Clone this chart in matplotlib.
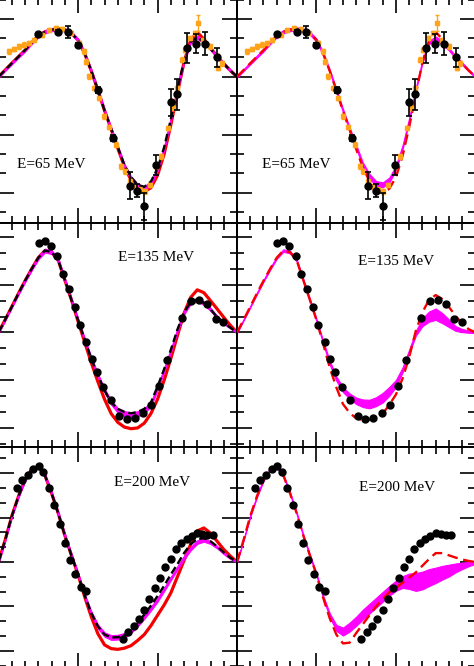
import numpy as np
import matplotlib.pyplot as plt
from matplotlib.ticker import MultipleLocator

# angle grid for the theory curves (deg), every 5 degrees
theta = [0, 5, 10, 15, 20, 25, 30, 35, 40, 45, 50, 55, 60, 65, 70, 75, 80, 85, 90,
         95, 100, 105, 110, 115, 120, 125, 130, 135, 140, 145, 150, 155, 160, 165,
         170, 175, 180]

# ---- E = 65 MeV ----
band65_l = [0, .035, .07, .104, .138, .176, .212, .233, .244, .248, .243, .226, .19,
            .12, .03, -.07, -.175, -.27, -.365, -.46, -.525, -.565, -.577, -.55, -.48,
            -.37, -.225, -.065, .08, .18, .205, .18, .145, .103, .068, .032, 0]
half65_l = [.004, .005, .006, .006, .007, .007, .008, .008, .008, .008, .008, .008, .008,
            .008, .008, .008, .008, .008, .009, .009, .01, .01, .01, .01, .01, .009,
            .009, .008, .008, .008, .008, .008, .007, .007, .006, .005, .004]
dash65_l = [0, .035, .07, .104, .138, .176, .212, .233, .244, .248, .243, .226, .19,
            .12, .03, -.07, -.175, -.27, -.365, -.458, -.52, -.56, -.57, -.543, -.475,
            -.365, -.222, -.063, .08, .18, .205, .18, .145, .103, .068, .032, 0]
red65_l = [0, .035, .07, .104, .138, .176, .212, .233, .244, .248, .243, .226, .19,
           .12, .03, -.07, -.175, -.272, -.37, -.465, -.535, -.578, -.595, -.575, -.51,
           -.40, -.25, -.085, .075, .19, .23, .195, .15, .105, .068, .032, 0]
band65_r = [0, .035, .07, .104, .138, .176, .212, .233, .244, .248, .243, .226, .19,
            .12, .03, -.07, -.175, -.27, -.362, -.455, -.515, -.553, -.56, -.535, -.47,
            -.365, -.222, -.065, .08, .178, .2, .178, .143, .102, .068, .032, 0]
half65_r = [.004, .005, .006, .006, .007, .007, .008, .008, .008, .008, .008, .008, .008,
            .008, .008, .008, .009, .009, .01, .011, .012, .013, .013, .013, .012, .011,
            .01, .009, .009, .009, .009, .008, .007, .007, .006, .005, .004]
red65_r = [0, .035, .07, .104, .138, .176, .212, .233, .244, .248, .243, .226, .19,
           .12, .03, -.07, -.178, -.275, -.375, -.47, -.54, -.587, -.60, -.58, -.52,
           -.41, -.26, -.09, .075, .19, .232, .195, .15, .105, .068, .032, 0]

# ---- E = 135 MeV ----
band135_l = [0, .08, .162, .245, .325, .40, .47, .515, .505, .455, .33, .205, .078,
             -.045, -.165, -.27, -.365, -.44, -.49, -.51, -.519, -.512, -.493, -.45,
             -.35, -.235, -.115, .015, .125, .19, .206, .185, .145, .097, .06, .03, 0]
half135_l = [.004, .005, .006, .008, .009, .01, .011, .012, .012, .012, .012, .012, .012,
             .012, .012, .012, .013, .014, .015, .016, .017, .017, .016, .015, .014,
             .013, .012, .012, .012, .012, .012, .011, .01, .008, .007, .005, .004]
dash135_l = [0, .08, .162, .245, .325, .40, .47, .515, .505, .455, .33, .205, .078,
             -.045, -.165, -.27, -.365, -.44, -.48, -.50, -.508, -.50, -.48, -.44,
             -.34, -.23, -.11, .018, .127, .19, .206, .185, .145, .097, .06, .03, 0]
red135_l = [0, .08, .162, .245, .325, .40, .47, .515, .505, .455, .33, .205, .07,
            -.06, -.19, -.31, -.42, -.51, -.565, -.595, -.605, -.60, -.57, -.51, -.42,
            -.30, -.165, -.02, .12, .22, .268, .25, .20, .148, .095, .045, 0]
band135_r = [0, .08, .162, .245, .325, .40, .47, .515, .505, .455, .33, .205, .078,
             -.06, -.19, -.29, -.36, -.40, -.43, -.445, -.45, -.435, -.41, -.37, -.32,
             -.235, -.12, -.005, .065, .10, .115, .09, .058, .025, .012, .005, 0]
half135_r = [.004, .005, .005, .006, .006, .007, .007, .008, .008, .008, .008, .008, .008,
             .01, .012, .014, .015, .017, .02, .024, .027, .028, .03, .028, .022, .016,
             .013, .015, .025, .032, .036, .032, .024, .015, .01, .007, .004]
red135_r = [0, .08, .162, .245, .325, .40, .47, .515, .505, .455, .33, .205, .078,
            -.07, -.22, -.345, -.45, -.505, -.54, -.55, -.55, -.53, -.51, -.455, -.39,
            -.29, -.155, .01, .127, .205, .235, .21, .16, .105, .055, .02, 0]

# ---- E = 200 MeV ----
band200_l = [0, .15, .31, .443, .555, .625, .645, .585, .465, .33, .18, .045, -.085,
             -.225, -.345, -.435, -.49, -.51, -.508, -.495, -.465, -.422, -.37, -.315,
             -.255, -.185, -.112, -.04, .03, .09, .135, .148, .132, .10, .06, .025, 0]
half200_l = [.004, .005, .006, .008, .009, .01, .011, .012, .012, .012, .012, .012, .012,
             .012, .013, .014, .015, .016, .016, .016, .015, .014, .014, .013, .013,
             .012, .012, .012, .012, .012, .012, .011, .01, .008, .007, .005, .004]
dash200_l = [0, .15, .31, .443, .555, .625, .645, .585, .465, .33, .18, .045, -.085,
             -.225, -.345, -.435, -.49, -.51, -.508, -.495, -.465, -.41, -.355, -.295,
             -.23, -.16, -.085, -.015, .06, .12, .155, .16, .14, .105, .065, .028, 0]
red200_l = [0, .15, .31, .443, .555, .625, .645, .585, .465, .33, .18, .045, -.085,
            -.235, -.37, -.485, -.56, -.585, -.59, -.582, -.565, -.53, -.49, -.43, -.36,
            -.29, -.21, -.10, .01, .12, .21, .23, .195, .14, .085, .04, 0]
band200_r = [0, .15, .31, .443, .555, .625, .645, .585, .465, .33, .18, .045, -.085,
             -.235, -.36, -.445, -.47, -.44, -.40, -.355, -.315, -.275, -.235, -.195,
             -.16, -.135, -.13, -.135, -.125, -.105, -.09, -.072, -.058, -.04, -.026,
             -.014, -.005]
half200_r = [.004, .005, .006, .007, .008, .008, .008, .008, .008, .008, .008, .008, .008,
             .01, .014, .02, .027, .03, .031, .033, .033, .033, .033, .033, .034, .04,
             .052, .06, .06, .057, .052, .046, .04, .03, .022, .014, .008]
red200_r = [0, .15, .31, .443, .555, .625, .645, .585, .465, .33, .18, .045, -.085,
            -.24, -.38, -.49, -.55, -.545, -.48, -.42, -.36, -.30, -.25, -.205, -.175,
            -.14, -.105, -.07, -.025, .02, .06, .06, .045, .03, .017, .007, 0]

# ---- measured points ----
orange_th = [7.6, 11.4, 15.2, 19, 22.8, 26.6, 32.9, 38, 43, 48.1, 54.4, 60.8, 64.6, 66.3,
             68.4, 72.2, 75.9, 79.7, 83.5, 86, 88.8, 92.6, 95.1, 99, 103, 106.6, 110.4,
             114, 119.2, 123, 128.1, 131.5, 134.4, 138.2, 140.7, 144.5, 148.3, 150.8,
             154.6, 159.7, 164.7, 166, 168.5]
orange_val = [.131, .143, .157, .166, .174, .191, .217, .243, .252, .247, .226, .174, .131,
              .079, .002, -.059, -.11, -.205, -.26, -.31, -.352, -.464, -.49, -.54, -.57,
              -.584, -.593, -.56, -.464, -.412, -.266, -.16, -.059, .088, .14, .2, .226,
              .278, .191, .157, .105, .045, .07]
orange_err = [.012] * 37 + [.04] + [.012] * 5

d65_th = [29.9, 45.1, 52.4, 60, 75.2, 86.6, 99.2, 104.6, 110.1, 119, 129.9, 134.7,
          142.5, 149.4, 156.2, 165.1]
d65_val = [.219, .233, .233, .167, -.069, -.319, -.564, -.59, -.672, -.457, -.133, -.09,
           .15, .172, .172, .10]
d65_err = [.01, .01, .03, .01, .017, .015, .069, .034, .07, .05, .069, .08, .078, .05,
           .06, .047]

d135_th = [30.4, 34.9, 39.2, 44.3, 48.6, 52.9, 57.7, 61.5, 66.1, 70.4, 74.2, 79, 85.1,
           91.1, 97, 103, 109.4, 115.4, 121.3, 127.3, 138.7, 145.6, 151.6, 157.7, 164, 169.6]
d135_val = [.563, .578, .542, .483, .368, .275, .158, .048, -.059, -.168, -.246, -.34,
            -.424, -.525, -.544, -.536, -.508, -.458, -.336, -.176, .092, .2, .206, .181,
            .084, .065]

d200_th = [13.9, 17.7, 22, 26.1, 30.4, 33.7, 38, 42, 46.1, 50.1, 53.9, 58, 62, 66.3,
           93.7, 98, 102, 106, 109.9, 113.9, 118, 122, 126, 130.1, 133.9, 138, 142, 146,
           150.1, 153.9, 157.7, 161.8]
d200_val = [.499, .555, .589, .628, .65, .605, .503, .384, .26, .126, .014, -.079, -.167,
            -.199, -.517, -.474, -.429, -.388, -.321, -.253, -.174, -.106, -.034, .023,
            .086, .131, .153, .176, .199, .192, .183, .181]

labels = ['E=65 MeV', 'E=135 MeV', 'E=200 MeV']
label_pos = [[(13.7, -0.456), (19, -0.456)],
             [(90.4, 0.47), (91.7, 0.445)],
             [(87.3, 0.536), (92.4, 0.50)]]

RED = '#f50000'
MAG = '#ff00ff'
ORANGE = '#ffa31a'


def style_axes(ax, ylim):
    ax.set_xlim(0, 180)
    ax.set_ylim(*ylim)
    ax.xaxis.set_major_locator(MultipleLocator(60))
    ax.xaxis.set_minor_locator(MultipleLocator(10))
    ax.yaxis.set_major_locator(MultipleLocator(0.3))
    ax.yaxis.set_minor_locator(MultipleLocator(0.1))
    ax.tick_params(which='both', direction='in', top=True, right=True,
                   labelbottom=False, labelleft=False, width=1.2, color='black')
    ax.tick_params(which='major', length=10.8)
    ax.tick_params(which='minor', length=5.2)
    for s in ax.spines.values():
        s.set_linewidth(1.4)


def draw_left(ax, band, half, dash, red):
    th = np.array(theta)
    b = np.array(band)
    h = np.array(half)
    ax.plot(th, red, color=RED, lw=2.3, zorder=1, solid_joinstyle='round')
    ax.fill_between(th, b - h, b + h, color=MAG, lw=0.8, edgecolor=MAG, zorder=2)
    ax.plot(th, dash, color='black', lw=1.7, dashes=(3.2, 1.6), zorder=3)


def draw_right(ax, band, half, red):
    th = np.array(theta)
    b = np.array(band)
    h = np.array(half)
    ax.fill_between(th, b - h, b + h, color=MAG, lw=0.8, edgecolor=MAG, zorder=2)
    ax.plot(th, red, color=RED, lw=1.7, dashes=(4.5, 2.4), zorder=3)


fig = plt.figure(figsize=(4.74, 6.66), dpi=100)

cols = [(-0.003, 0.5), (0.5, 1.003)]
rows = [(0.6656, 1.003), (0.3293, 0.6656), (-0.003, 0.3293)]
ylims = [(-0.756, 0.408), (-0.718, 0.69), (-0.716, 0.779)]

curves_l = [(band65_l, half65_l, dash65_l, red65_l),
            (band135_l, half135_l, dash135_l, red135_l),
            (band200_l, half200_l, dash200_l, red200_l)]
curves_r = [(band65_r, half65_r, red65_r),
            (band135_r, half135_r, red135_r),
            (band200_r, half200_r, red200_r)]

for i, (y0, y1) in enumerate(rows):
    for j, (x0, x1) in enumerate(cols):
        ax = fig.add_axes([x0, y0, x1 - x0, y1 - y0])
        style_axes(ax, ylims[i])
        if j == 0:
            draw_left(ax, *curves_l[i])
        else:
            draw_right(ax, *curves_r[i])

        if i == 0:
            ax.errorbar(orange_th, orange_val, yerr=orange_err, fmt='s', ms=2.6,
                        color=ORANGE, ecolor=ORANGE, elinewidth=1.0, capsize=1.2,
                        zorder=4)
            ax.errorbar(d65_th, d65_val, yerr=d65_err, fmt='o', ms=5, color='black',
                        elinewidth=1.2, capsize=2.2, capthick=1.2, zorder=5)
        elif i == 1:
            ax.plot(d135_th, d135_val, 'o', ms=5, color='black', zorder=5)
        else:
            ax.plot(d200_th, d200_val, 'o', ms=5, color='black', zorder=5)

        tx, ty = label_pos[i][j]
        ax.text(tx, ty, labels[i], fontsize=11, family='Liberation Serif',
                ha='left', va='center', zorder=6)

fig.savefig('out.png', dpi=100)
